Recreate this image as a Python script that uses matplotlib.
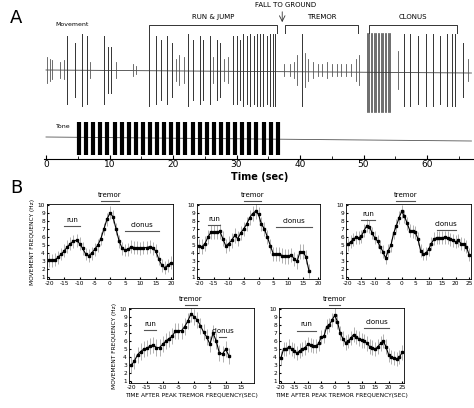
import numpy as np
import matplotlib.pyplot as plt

# ---- panel A data (seconds) ----
spike_times = [3.3, 4.6, 5.6, 6.5, 9.2, 9.7, 10.3, 16.2, 17.3, 18.1, 19.0, 19.8,
               22.4, 23.2, 24.3, 24.8, 25.8, 26.9, 27.4, 29.5, 30.0, 30.6, 31.1,
               31.6, 32.1, 32.7, 33.2, 33.7, 34.2, 34.8, 35.3, 35.8, 36.1, 40.3,
               56.3, 57.3, 58.6, 59.9, 61.0, 62.0, 63.1, 63.9, 64.4, 65.7]
spike_amp = [0.9, 0.7, 0.95, 0.9, 0.9, 0.6, 0.6, 0.95, 0.9, 0.8, 0.9, 0.7,
             0.95, 0.8, 0.9, 0.8, 0.9, 0.8, 0.7, 0.9, 0.9, 0.8, 0.95,
             0.9, 0.95, 0.9, 0.95, 0.95, 0.95, 0.9, 0.95, 0.95, 0.95, 0.95,
             0.95, 0.95, 0.9, 0.95, 0.95, 0.9, 0.95, 0.95, 0.95, 0.7]
small_times = [0.2, 0.6, 1.0, 2.2, 2.8, 7.0, 11.0, 13.7, 14.2, 20.5, 21.0, 21.7,
               26.3, 28.0, 28.7, 37.5, 38.5, 39.0, 39.6, 40.8, 41.3, 42.0, 42.8,
               43.5, 44.3, 45.0, 45.8, 46.5, 47.2, 48.0, 48.8, 49.3, 55.5, 66.5]
small_amp = [0.35, 0.3, 0.25, 0.2, 0.25, 0.2, 0.2, 0.15, 0.1, 0.3, 0.4, 0.35,
             0.35, 0.3, 0.35, 0.15, 0.15, 0.2, 0.4, 0.45, 0.3, 0.2, 0.15,
             0.15, 0.2, 0.15, 0.15, 0.15, 0.15, 0.15, 0.3, 0.4, 0.5, 0.3]
clonus_start, clonus_end, clonus_step = 50.5, 54.4, 0.22
tone_start, tone_end, tone_n = 5.2, 36.5, 29
time_ticks = [0, 10, 20, 30, 40, 50, 60]
brackets = [("RUN & JUMP", 16.2, 36.3), ("TREMOR", 37.7, 49.2), ("CLONUS", 50.8, 64.8)]

# ---- panel B data (Hz vs sec after peak tremor) ----
p1 = [3.1, 3.1, 3.2, 3.5, 3.9, 4.3, 4.8, 5.2, 5.5, 5.6, 5.2, 4.6, 3.9, 3.7, 4.0, 4.5, 5.0,
      5.8, 7.0, 8.2, 9.0, 8.5, 7.0, 5.5, 4.6, 4.4, 4.5, 4.8, 4.7, 4.7, 4.6, 4.7, 4.7, 4.8,
      4.6, 4.3, 3.3, 2.5, 2.2, 2.5, 2.8]
p2 = [4.9, 4.8, 5.2, 6.0, 6.6, 6.6, 6.6, 6.7, 5.8, 4.9, 5.2, 5.6, 6.2, 5.8, 6.5, 7.0, 7.6,
      8.4, 8.9, 9.2, 8.8, 7.6, 7.0, 6.0, 4.9, 3.9, 3.9, 3.9, 3.7, 3.6, 3.6, 3.8, 3.3, 3.0,
      4.2, 4.2, 3.5, 1.8]
p3 = [5.1, 5.4, 5.7, 6.0, 5.9, 6.1, 6.8, 7.4, 7.3, 6.5, 5.9, 5.5, 4.8, 4.2, 3.4, 4.3, 5.0,
      6.5, 7.4, 8.4, 9.2, 8.6, 7.7, 6.8, 6.7, 6.6, 5.8, 4.3, 3.9, 4.0, 4.5, 5.2, 5.8, 5.9,
      5.9, 5.9, 6.0, 5.9, 5.7, 5.6, 5.4, 5.6, 5.2, 5.1, 4.8, 3.8]
p4 = [3.0, 3.5, 4.3, 4.7, 5.0, 5.1, 5.4, 5.5, 5.2, 5.2, 5.6, 6.0, 6.3, 6.6, 7.2, 7.3, 7.3,
      7.8, 8.5, 9.4, 9.0, 8.6, 7.9, 7.1, 6.5, 5.6, 7.0, 6.0, 4.5, 4.4, 5.0, 4.2]
p5 = [3.9, 5.0, 5.0, 5.3, 5.0, 4.8, 4.5, 4.8, 5.0, 5.2, 5.6, 5.5, 5.4, 5.4, 5.7, 6.5, 6.6,
      7.8, 8.0, 8.6, 9.2, 8.4, 7.0, 6.3, 5.8, 6.0, 6.4, 6.8, 6.5, 6.3, 6.1, 6.0, 5.7, 5.3,
      5.2, 5.0, 5.3, 5.7, 6.0, 5.3, 4.3, 4.0, 3.9, 3.8, 4.0, 4.6]
errs = [0.8, 0.9, 0.8, 1.0, 0.9]

W, H = 474, 408
plt.rcParams['font.family'] = 'DejaVu Sans'
plt.rcParams['axes.unicode_minus'] = False
fig = plt.figure(figsize=(W / 100, H / 100), dpi=100)

def px_axes(x0, y0, x1, y1):
    return fig.add_axes([x0 / W, 1 - y1 / H, (x1 - x0) / W, (y1 - y0) / H])

# ---- panel A ----
t0, t1 = -0.3, 67.5
pps = 6.35
axA = px_axes(46 + t0 * pps, 0, 46 + t1 * pps, 160)
axA.set_xlim(t0, t1)
axA.set_ylim(160, 0)
axA.axis('off')
base = 70
axA.plot([0, 67], [base, base + 3], color='#444', lw=0.6)
for t, a in zip(spike_times, spike_amp):
    axA.plot([t, t], [base - 38 * a, base + 38 * a], color='#333', lw=0.7)
for t, a in zip(small_times, small_amp):
    axA.plot([t, t], [base - 38 * a, base + 38 * a], color='#555', lw=0.6)
for t in np.arange(clonus_start, clonus_end, clonus_step):
    axA.plot([t, t], [base - 37, base + 42], color='#333', lw=0.5)
for lab, a, b in brackets:
    axA.plot([a, a, b, b], [33, 25, 25, 33], color='#333', lw=0.7)
    axA.text((a + b) / 2, 20, lab, ha='center', va='bottom', fontsize=5)
axA.annotate("", xy=(37.2, 25), xytext=(37.2, 9),
             arrowprops=dict(arrowstyle='->', lw=0.6, color='#333'))
axA.text(37.8, 5, "FALL TO GROUND", ha='center', va='center', fontsize=5)
axA.text(1.5, 24, "Movement", fontsize=4.5, va='center')
axA.text(1.5, 127, "Tone", fontsize=4.5, va='center')
axA.plot([0, 67], [137, 141], color='#555', lw=0.6)
for t in np.linspace(tone_start, tone_end, tone_n):
    axA.plot([t, t], [122, 155], color='black', lw=3.0, solid_capstyle='butt')

axT = px_axes(46 + t0 * pps, 158, 46 + t1 * pps, 159)
axT.set_xlim(t0, t1)
axT.set_yticks([])
for s in ['top', 'left', 'right']:
    axT.spines[s].set_visible(False)
axT.spines['bottom'].set_linewidth(0.8)
axT.set_xticks(time_ticks)
axT.set_xticks(np.arange(0, 67, 5), minor=True)
axT.tick_params(axis='x', labelsize=6.5, length=3, pad=1, direction='in')
axT.tick_params(axis='x', which='minor', length=2, direction='in')
axT.set_xlabel("Time (sec)", fontsize=7, fontweight='bold', labelpad=2)

fig.text(10 / W, 1 - 18 / H, "A", fontsize=13, va='center')
fig.text(10 / W, 1 - 188 / H, "B", fontsize=13, va='center')

# ---- panel B ----
panels = [
    (p1, (47, 204, 173, 279), (-20.7, 20.7), [-20, -15, -10, -5, 0, 5, 10, 15, 20],
     [("run", -15, -10, 7.4), ("tremor", -3, 3, 10.5), ("clonus", 5, 16, 6.7)], True, False),
    (p2, (197, 204, 320, 279), (-20.7, 20.7), [-20, -15, -10, -5, 0, 5, 10, 15, 20],
     [("run", -17, -13, 7.5), ("tremor", -5, 1, 10.5), ("clonus", 6, 18, 7.2)], False, False),
    (p3, (346, 204, 471, 279), (-20.7, 25.7), [-20, -15, -10, -5, 0, 5, 10, 15, 20, 25],
     [("run", -15, -10, 8.1), ("tremor", -2, 5, 10.5), ("clonus", 13, 20, 6.9)], False, False),
    (p4, (129, 308, 254, 383), (-20.7, 19), [-20, -15, -10, -5, 0, 5, 10, 15],
     [("run", -16, -12, 7.4), ("tremor", -3, 1, 10.5), ("clonus", 8, 10, 6.5)], True, True),
    (p5, (279, 308, 404, 383), (-20.7, 25.7), [-20, -15, -10, -5, 0, 5, 10, 15, 20, 25],
     [("run", -14, -7, 7.3), ("tremor", -2, 2, 10.5), ("clonus", 11, 20, 7.6)], False, True),
]
for (vals, box, xl, xt, labels, ylab, xlab), e in zip(panels, errs):
    ax = px_axes(*box)
    x = np.arange(-20, -20 + len(vals))
    ax.errorbar(x, vals, yerr=e, color='black', ecolor='#777', elinewidth=0.4,
                lw=0.8, marker='s', ms=1.6, capsize=0)
    ax.set_xlim(*xl)
    ax.set_ylim(0.8, 10.1)
    ax.set_xticks(xt)
    ax.set_yticks(range(1, 11))
    ax.tick_params(labelsize=4.2, length=1.5, pad=1.5, direction='in')
    for s in ax.spines.values():
        s.set_linewidth(0.6)
    for lab, a, b, y in labels:
        ax.plot([a, b], [y, y], color='#555', lw=0.8, clip_on=False)
        ax.text((a + b) / 2, y + 0.4, lab, ha='center', va='bottom', fontsize=5)
    if ylab:
        ax.set_ylabel("MOVEMENT FREQUENCY (Hz)", fontsize=4.2, labelpad=2)
    if xlab:
        ax.set_xlabel("TIME AFTER PEAK TREMOR FREQUENCY(SEC)", fontsize=4.2, labelpad=2)

fig.savefig("out.png", dpi=100, facecolor='white')
